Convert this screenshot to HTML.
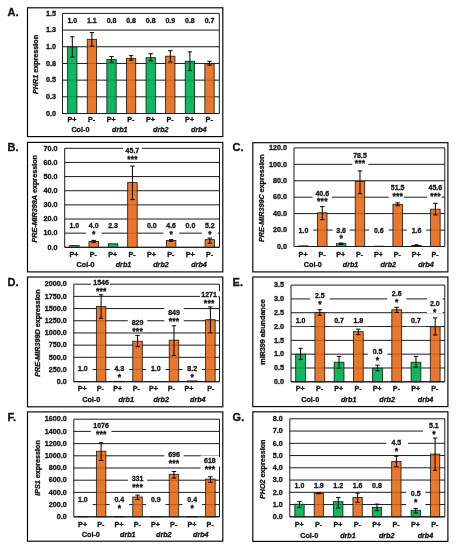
<!DOCTYPE html>
<html><head><meta charset="utf-8"><title>Figure</title>
<style>html,body{margin:0;padding:0;background:#fff}svg{display:block}text{font-family:"Liberation Sans", sans-serif;fill:#111;stroke:#111;stroke-width:0.3px}</style>
</head><body>
<svg width="457" height="550" viewBox="0 0 457 550">
<rect width="457" height="550" fill="#fff"/>
<text x="7.6" y="15.6" font-size="11" font-weight="bold">A.</text>
<rect x="27.5" y="7.8" width="195.3" height="128.8" fill="#fff" stroke="#000" stroke-width="1.15"/>
<line x1="62.5" y1="13.4" x2="219.3" y2="13.4" stroke="#1a1a1a" stroke-width="1"/>
<line x1="62.5" y1="30.08" x2="219.3" y2="30.08" stroke="#1a1a1a" stroke-width="1"/>
<line x1="62.5" y1="46.77" x2="219.3" y2="46.77" stroke="#1a1a1a" stroke-width="1"/>
<line x1="62.5" y1="63.45" x2="219.3" y2="63.45" stroke="#1a1a1a" stroke-width="1"/>
<line x1="62.5" y1="80.13" x2="219.3" y2="80.13" stroke="#1a1a1a" stroke-width="1"/>
<line x1="62.5" y1="96.82" x2="219.3" y2="96.82" stroke="#1a1a1a" stroke-width="1"/>
<line x1="62.5" y1="113.5" x2="219.3" y2="113.5" stroke="#1a1a1a" stroke-width="1"/>
<line x1="62.5" y1="13.4" x2="62.5" y2="113.5" stroke="#1a1a1a" stroke-width="1"/>
<line x1="219.3" y1="13.4" x2="219.3" y2="113.5" stroke="#1a1a1a" stroke-width="1"/>
<rect x="67.65" y="46.9" width="9.3" height="66.6" fill="#10B862" stroke="#151515" stroke-width="0.8"/>
<line x1="68.05" y1="63.45" x2="76.55" y2="63.45" stroke="#000" stroke-opacity="0.22" stroke-width="1"/>
<line x1="68.05" y1="80.13" x2="76.55" y2="80.13" stroke="#000" stroke-opacity="0.22" stroke-width="1"/>
<line x1="68.05" y1="96.82" x2="76.55" y2="96.82" stroke="#000" stroke-opacity="0.22" stroke-width="1"/>
<path d="M72.3 36.8V57M70.1 36.8H74.5M70.1 57H74.5" stroke="#000" stroke-width="1" fill="none"/>
<rect x="87.25" y="39.3" width="9.3" height="74.2" fill="#E9782C" stroke="#151515" stroke-width="0.8"/>
<line x1="87.65" y1="46.77" x2="96.15" y2="46.77" stroke="#000" stroke-opacity="0.22" stroke-width="1"/>
<line x1="87.65" y1="63.45" x2="96.15" y2="63.45" stroke="#000" stroke-opacity="0.22" stroke-width="1"/>
<line x1="87.65" y1="80.13" x2="96.15" y2="80.13" stroke="#000" stroke-opacity="0.22" stroke-width="1"/>
<line x1="87.65" y1="96.82" x2="96.15" y2="96.82" stroke="#000" stroke-opacity="0.22" stroke-width="1"/>
<path d="M91.9 32.5V46.1M89.7 32.5H94.1M89.7 46.1H94.1" stroke="#000" stroke-width="1" fill="none"/>
<rect x="106.85" y="59.5" width="9.3" height="54" fill="#10B862" stroke="#151515" stroke-width="0.8"/>
<line x1="107.25" y1="63.45" x2="115.75" y2="63.45" stroke="#000" stroke-opacity="0.22" stroke-width="1"/>
<line x1="107.25" y1="80.13" x2="115.75" y2="80.13" stroke="#000" stroke-opacity="0.22" stroke-width="1"/>
<line x1="107.25" y1="96.82" x2="115.75" y2="96.82" stroke="#000" stroke-opacity="0.22" stroke-width="1"/>
<path d="M111.5 56.6V62.1M109.3 56.6H113.7M109.3 62.1H113.7" stroke="#000" stroke-width="1" fill="none"/>
<rect x="126.45" y="58.3" width="9.3" height="55.2" fill="#E9782C" stroke="#151515" stroke-width="0.8"/>
<line x1="126.85" y1="63.45" x2="135.35" y2="63.45" stroke="#000" stroke-opacity="0.22" stroke-width="1"/>
<line x1="126.85" y1="80.13" x2="135.35" y2="80.13" stroke="#000" stroke-opacity="0.22" stroke-width="1"/>
<line x1="126.85" y1="96.82" x2="135.35" y2="96.82" stroke="#000" stroke-opacity="0.22" stroke-width="1"/>
<path d="M131.1 55.7V60.2M128.9 55.7H133.3M128.9 60.2H133.3" stroke="#000" stroke-width="1" fill="none"/>
<rect x="146.05" y="57.7" width="9.3" height="55.8" fill="#10B862" stroke="#151515" stroke-width="0.8"/>
<line x1="146.45" y1="63.45" x2="154.95" y2="63.45" stroke="#000" stroke-opacity="0.22" stroke-width="1"/>
<line x1="146.45" y1="80.13" x2="154.95" y2="80.13" stroke="#000" stroke-opacity="0.22" stroke-width="1"/>
<line x1="146.45" y1="96.82" x2="154.95" y2="96.82" stroke="#000" stroke-opacity="0.22" stroke-width="1"/>
<path d="M150.7 53.7V60.8M148.5 53.7H152.9M148.5 60.8H152.9" stroke="#000" stroke-width="1" fill="none"/>
<rect x="165.65" y="56.2" width="9.3" height="57.3" fill="#E9782C" stroke="#151515" stroke-width="0.8"/>
<line x1="166.05" y1="63.45" x2="174.55" y2="63.45" stroke="#000" stroke-opacity="0.22" stroke-width="1"/>
<line x1="166.05" y1="80.13" x2="174.55" y2="80.13" stroke="#000" stroke-opacity="0.22" stroke-width="1"/>
<line x1="166.05" y1="96.82" x2="174.55" y2="96.82" stroke="#000" stroke-opacity="0.22" stroke-width="1"/>
<path d="M170.3 50.7V62M168.1 50.7H172.5M168.1 62H172.5" stroke="#000" stroke-width="1" fill="none"/>
<rect x="185.25" y="61.3" width="9.3" height="52.2" fill="#10B862" stroke="#151515" stroke-width="0.8"/>
<line x1="185.65" y1="63.45" x2="194.15" y2="63.45" stroke="#000" stroke-opacity="0.22" stroke-width="1"/>
<line x1="185.65" y1="80.13" x2="194.15" y2="80.13" stroke="#000" stroke-opacity="0.22" stroke-width="1"/>
<line x1="185.65" y1="96.82" x2="194.15" y2="96.82" stroke="#000" stroke-opacity="0.22" stroke-width="1"/>
<path d="M189.9 51.9V70.6M187.7 51.9H192.1M187.7 70.6H192.1" stroke="#000" stroke-width="1" fill="none"/>
<rect x="204.85" y="63.8" width="9.3" height="49.7" fill="#E9782C" stroke="#151515" stroke-width="0.8"/>
<line x1="205.25" y1="80.13" x2="213.75" y2="80.13" stroke="#000" stroke-opacity="0.22" stroke-width="1"/>
<line x1="205.25" y1="96.82" x2="213.75" y2="96.82" stroke="#000" stroke-opacity="0.22" stroke-width="1"/>
<path d="M209.5 61.3V65.2M207.3 61.3H211.7M207.3 65.2H211.7" stroke="#000" stroke-width="1" fill="none"/>
<line x1="62.5" y1="113.5" x2="219.3" y2="113.5" stroke="#1a1a1a" stroke-width="1"/>
<text x="72.3" y="22.91" font-size="7.0" font-weight="bold" text-anchor="middle">1.0</text>
<text x="91.9" y="22.91" font-size="7.0" font-weight="bold" text-anchor="middle">1.1</text>
<text x="111.5" y="22.91" font-size="7.0" font-weight="bold" text-anchor="middle">0.8</text>
<text x="131.1" y="22.91" font-size="7.0" font-weight="bold" text-anchor="middle">0.8</text>
<text x="150.7" y="22.91" font-size="7.0" font-weight="bold" text-anchor="middle">0.8</text>
<text x="170.3" y="22.91" font-size="7.0" font-weight="bold" text-anchor="middle">0.9</text>
<text x="189.9" y="22.91" font-size="7.0" font-weight="bold" text-anchor="middle">0.8</text>
<text x="209.5" y="22.91" font-size="7.0" font-weight="bold" text-anchor="middle">0.7</text>
<text x="55.9" y="15.68" font-size="7.2" font-weight="bold" text-anchor="end">1.5</text>
<text x="55.9" y="32.36" font-size="7.2" font-weight="bold" text-anchor="end">1.3</text>
<text x="55.9" y="49.04" font-size="7.2" font-weight="bold" text-anchor="end">1.0</text>
<text x="55.9" y="65.73" font-size="7.2" font-weight="bold" text-anchor="end">0.8</text>
<text x="55.9" y="82.41" font-size="7.2" font-weight="bold" text-anchor="end">0.5</text>
<text x="55.9" y="99.09" font-size="7.2" font-weight="bold" text-anchor="end">0.3</text>
<text x="55.9" y="115.78" font-size="7.2" font-weight="bold" text-anchor="end">0.0</text>
<text transform="translate(37.6 64.45) rotate(-90)" font-size="7.2" font-weight="bold" text-anchor="middle"><tspan font-style="italic">PHR1</tspan> expression</text>
<text x="72" y="121.88" font-size="7.2" font-weight="bold" text-anchor="middle">P+</text>
<text x="91.6" y="121.88" font-size="7.2" font-weight="bold" text-anchor="middle">P-</text>
<text x="111.2" y="121.88" font-size="7.2" font-weight="bold" text-anchor="middle">P+</text>
<text x="130.8" y="121.88" font-size="7.2" font-weight="bold" text-anchor="middle">P-</text>
<text x="150.4" y="121.88" font-size="7.2" font-weight="bold" text-anchor="middle">P+</text>
<text x="170" y="121.88" font-size="7.2" font-weight="bold" text-anchor="middle">P-</text>
<text x="189.6" y="121.88" font-size="7.2" font-weight="bold" text-anchor="middle">P+</text>
<text x="209.2" y="121.88" font-size="7.2" font-weight="bold" text-anchor="middle">P-</text>
<text x="80.4" y="132.28" font-size="7.2" font-weight="bold" text-anchor="middle">Col-0</text>
<text x="119.8" y="132.28" font-size="7.2" font-weight="bold" text-anchor="middle"><tspan font-style="italic">drb1</tspan></text>
<text x="160.8" y="132.28" font-size="7.2" font-weight="bold" text-anchor="middle"><tspan font-style="italic">drb2</tspan></text>
<text x="198.8" y="132.28" font-size="7.2" font-weight="bold" text-anchor="middle"><tspan font-style="italic">drb4</tspan></text>
<text x="7.6" y="150.6" font-size="11" font-weight="bold">B.</text>
<rect x="27.5" y="142.4" width="195.3" height="129.5" fill="#fff" stroke="#000" stroke-width="1.15"/>
<line x1="64.7" y1="148.3" x2="219.5" y2="148.3" stroke="#1a1a1a" stroke-width="1"/>
<line x1="64.7" y1="162.44" x2="219.5" y2="162.44" stroke="#1a1a1a" stroke-width="1"/>
<line x1="64.7" y1="176.59" x2="219.5" y2="176.59" stroke="#1a1a1a" stroke-width="1"/>
<line x1="64.7" y1="190.73" x2="219.5" y2="190.73" stroke="#1a1a1a" stroke-width="1"/>
<line x1="64.7" y1="204.87" x2="219.5" y2="204.87" stroke="#1a1a1a" stroke-width="1"/>
<line x1="64.7" y1="219.01" x2="219.5" y2="219.01" stroke="#1a1a1a" stroke-width="1"/>
<line x1="64.7" y1="233.16" x2="219.5" y2="233.16" stroke="#1a1a1a" stroke-width="1"/>
<line x1="64.7" y1="247.3" x2="219.5" y2="247.3" stroke="#1a1a1a" stroke-width="1"/>
<rect x="66.47" y="220.9" width="15.8" height="10.6" fill="#fff"/>
<rect x="85.83" y="220.3" width="15.8" height="15.2" fill="#fff"/>
<rect x="105.17" y="220.9" width="15.8" height="10.6" fill="#fff"/>
<rect x="123.07" y="145.4" width="18.71" height="15.2" fill="#fff"/>
<rect x="143.88" y="220.9" width="15.8" height="10.6" fill="#fff"/>
<rect x="163.22" y="220.3" width="15.8" height="15.2" fill="#fff"/>
<rect x="182.58" y="220.9" width="15.8" height="10.6" fill="#fff"/>
<rect x="201.92" y="220.3" width="15.8" height="15.2" fill="#fff"/>
<line x1="64.7" y1="148.3" x2="64.7" y2="247.3" stroke="#1a1a1a" stroke-width="1"/>
<line x1="219.5" y1="148.3" x2="219.5" y2="247.3" stroke="#1a1a1a" stroke-width="1"/>
<rect x="69.62" y="245.6" width="9.5" height="1.7" fill="#10B862" stroke="#151515" stroke-width="0.8"/>
<rect x="88.98" y="241.4" width="9.5" height="5.9" fill="#E9782C" stroke="#151515" stroke-width="0.8"/>
<path d="M93.73 240.4V242.4M91.53 240.4H95.93M91.53 242.4H95.93" stroke="#000" stroke-width="1" fill="none"/>
<rect x="108.33" y="243.8" width="9.5" height="3.5" fill="#10B862" stroke="#151515" stroke-width="0.8"/>
<rect x="127.68" y="182.6" width="9.5" height="64.7" fill="#E9782C" stroke="#151515" stroke-width="0.8"/>
<line x1="128.08" y1="190.73" x2="136.78" y2="190.73" stroke="#000" stroke-opacity="0.22" stroke-width="1"/>
<line x1="128.08" y1="204.87" x2="136.78" y2="204.87" stroke="#000" stroke-opacity="0.22" stroke-width="1"/>
<line x1="128.08" y1="219.01" x2="136.78" y2="219.01" stroke="#000" stroke-opacity="0.22" stroke-width="1"/>
<line x1="128.08" y1="233.16" x2="136.78" y2="233.16" stroke="#000" stroke-opacity="0.22" stroke-width="1"/>
<path d="M132.43 166.1V199.6M130.23 166.1H134.62M130.23 199.6H134.62" stroke="#000" stroke-width="1" fill="none"/>
<rect x="166.38" y="240.5" width="9.5" height="6.8" fill="#E9782C" stroke="#151515" stroke-width="0.8"/>
<path d="M171.12 239.6V241.4M168.93 239.6H173.32M168.93 241.4H173.32" stroke="#000" stroke-width="1" fill="none"/>
<rect x="205.07" y="239.7" width="9.5" height="7.6" fill="#E9782C" stroke="#151515" stroke-width="0.8"/>
<path d="M209.82 238.1V243.2M207.62 238.1H212.02M207.62 243.2H212.02" stroke="#000" stroke-width="1" fill="none"/>
<line x1="64.7" y1="247.3" x2="219.5" y2="247.3" stroke="#1a1a1a" stroke-width="1"/>
<text x="74.38" y="228.01" font-size="7.0" font-weight="bold" text-anchor="middle">1.0</text>
<text x="93.73" y="228.01" font-size="7.0" font-weight="bold" text-anchor="middle">4.0</text>
<text x="93.83" y="237.04" font-size="8.6" font-weight="bold" text-anchor="middle" letter-spacing="0.2">*</text>
<text x="113.08" y="228.01" font-size="7.0" font-weight="bold" text-anchor="middle">2.3</text>
<text x="132.43" y="153.11" font-size="7.0" font-weight="bold" text-anchor="middle">45.7</text>
<text x="132.53" y="162.14" font-size="8.6" font-weight="bold" text-anchor="middle" letter-spacing="0.2">***</text>
<text x="151.78" y="228.01" font-size="7.0" font-weight="bold" text-anchor="middle">0.0</text>
<text x="171.12" y="228.01" font-size="7.0" font-weight="bold" text-anchor="middle">4.6</text>
<text x="171.22" y="237.04" font-size="8.6" font-weight="bold" text-anchor="middle" letter-spacing="0.2">*</text>
<text x="190.48" y="228.01" font-size="7.0" font-weight="bold" text-anchor="middle">0.0</text>
<text x="209.82" y="228.01" font-size="7.0" font-weight="bold" text-anchor="middle">5.2</text>
<text x="209.92" y="237.04" font-size="8.6" font-weight="bold" text-anchor="middle" letter-spacing="0.2">*</text>
<text x="57.6" y="150.58" font-size="7.2" font-weight="bold" text-anchor="end">70.0</text>
<text x="57.6" y="164.72" font-size="7.2" font-weight="bold" text-anchor="end">60.0</text>
<text x="57.6" y="178.86" font-size="7.2" font-weight="bold" text-anchor="end">50.0</text>
<text x="57.6" y="193.01" font-size="7.2" font-weight="bold" text-anchor="end">40.0</text>
<text x="57.6" y="207.15" font-size="7.2" font-weight="bold" text-anchor="end">30.0</text>
<text x="57.6" y="221.29" font-size="7.2" font-weight="bold" text-anchor="end">20.0</text>
<text x="57.6" y="235.43" font-size="7.2" font-weight="bold" text-anchor="end">10.0</text>
<text x="57.6" y="249.58" font-size="7.2" font-weight="bold" text-anchor="end">0.0</text>
<text transform="translate(37 198.8) rotate(-90)" font-size="7.2" font-weight="bold" text-anchor="middle"><tspan font-style="italic">PRE-MIR399A</tspan> expression</text>
<text x="74.08" y="256.78" font-size="7.2" font-weight="bold" text-anchor="middle">P+</text>
<text x="93.43" y="256.78" font-size="7.2" font-weight="bold" text-anchor="middle">P-</text>
<text x="112.78" y="256.78" font-size="7.2" font-weight="bold" text-anchor="middle">P+</text>
<text x="132.12" y="256.78" font-size="7.2" font-weight="bold" text-anchor="middle">P-</text>
<text x="151.47" y="256.78" font-size="7.2" font-weight="bold" text-anchor="middle">P+</text>
<text x="170.82" y="256.78" font-size="7.2" font-weight="bold" text-anchor="middle">P-</text>
<text x="190.18" y="256.78" font-size="7.2" font-weight="bold" text-anchor="middle">P+</text>
<text x="209.52" y="256.78" font-size="7.2" font-weight="bold" text-anchor="middle">P-</text>
<text x="85.6" y="267.38" font-size="7.2" font-weight="bold" text-anchor="middle">Col-0</text>
<text x="123.5" y="267.38" font-size="7.2" font-weight="bold" text-anchor="middle"><tspan font-style="italic">drb1</tspan></text>
<text x="161" y="267.38" font-size="7.2" font-weight="bold" text-anchor="middle"><tspan font-style="italic">drb2</tspan></text>
<text x="199" y="267.38" font-size="7.2" font-weight="bold" text-anchor="middle"><tspan font-style="italic">drb4</tspan></text>
<text x="232.6" y="150.6" font-size="11" font-weight="bold">C.</text>
<rect x="252.8" y="142.7" width="195.1" height="129.2" fill="#fff" stroke="#000" stroke-width="1.15"/>
<line x1="294" y1="147.9" x2="444.8" y2="147.9" stroke="#1a1a1a" stroke-width="1"/>
<line x1="294" y1="164.33" x2="444.8" y2="164.33" stroke="#1a1a1a" stroke-width="1"/>
<line x1="294" y1="180.77" x2="444.8" y2="180.77" stroke="#1a1a1a" stroke-width="1"/>
<line x1="294" y1="197.2" x2="444.8" y2="197.2" stroke="#1a1a1a" stroke-width="1"/>
<line x1="294" y1="213.63" x2="444.8" y2="213.63" stroke="#1a1a1a" stroke-width="1"/>
<line x1="294" y1="230.07" x2="444.8" y2="230.07" stroke="#1a1a1a" stroke-width="1"/>
<line x1="294" y1="246.5" x2="444.8" y2="246.5" stroke="#1a1a1a" stroke-width="1"/>
<rect x="293.73" y="225.6" width="19.4" height="10.6" fill="#fff"/>
<rect x="312.57" y="187.8" width="19.4" height="15.2" fill="#fff"/>
<rect x="332.73" y="225" width="16.8" height="15.2" fill="#fff"/>
<rect x="352.3" y="150" width="16" height="15.2" fill="#fff"/>
<rect x="369.12" y="225.6" width="19.4" height="10.6" fill="#fff"/>
<rect x="388.6" y="182.7" width="15.4" height="15.2" fill="#fff"/>
<rect x="406.82" y="225.6" width="19.4" height="10.6" fill="#fff"/>
<rect x="427.1" y="182.7" width="14.7" height="15.2" fill="#fff"/>
<line x1="294" y1="147.9" x2="294" y2="246.5" stroke="#1a1a1a" stroke-width="1"/>
<line x1="444.8" y1="147.9" x2="444.8" y2="246.5" stroke="#1a1a1a" stroke-width="1"/>
<rect x="298.68" y="245.9" width="9.5" height="0.6" fill="#10B862" stroke="#151515" stroke-width="0.8"/>
<rect x="317.52" y="212.8" width="9.5" height="33.7" fill="#E9782C" stroke="#151515" stroke-width="0.8"/>
<line x1="317.92" y1="213.63" x2="326.62" y2="213.63" stroke="#000" stroke-opacity="0.22" stroke-width="1"/>
<line x1="317.92" y1="230.07" x2="326.62" y2="230.07" stroke="#000" stroke-opacity="0.22" stroke-width="1"/>
<path d="M322.27 206.6V219.7M320.07 206.6H324.47M320.07 219.7H324.47" stroke="#000" stroke-width="1" fill="none"/>
<rect x="336.38" y="243.7" width="9.5" height="2.8" fill="#10B862" stroke="#151515" stroke-width="0.8"/>
<path d="M341.12 243V244.4M338.93 243H343.32M338.93 244.4H343.32" stroke="#000" stroke-width="1" fill="none"/>
<rect x="355.23" y="181.3" width="9.5" height="65.2" fill="#E9782C" stroke="#151515" stroke-width="0.8"/>
<line x1="355.62" y1="197.2" x2="364.33" y2="197.2" stroke="#000" stroke-opacity="0.22" stroke-width="1"/>
<line x1="355.62" y1="213.63" x2="364.33" y2="213.63" stroke="#000" stroke-opacity="0.22" stroke-width="1"/>
<line x1="355.62" y1="230.07" x2="364.33" y2="230.07" stroke="#000" stroke-opacity="0.22" stroke-width="1"/>
<path d="M359.98 170.9V193.7M357.78 170.9H362.18M357.78 193.7H362.18" stroke="#000" stroke-width="1" fill="none"/>
<rect x="374.07" y="246.2" width="9.5" height="0.3" fill="#10B862" stroke="#151515" stroke-width="0.8"/>
<rect x="392.93" y="204.3" width="9.5" height="42.2" fill="#E9782C" stroke="#151515" stroke-width="0.8"/>
<line x1="393.32" y1="213.63" x2="402.03" y2="213.63" stroke="#000" stroke-opacity="0.22" stroke-width="1"/>
<line x1="393.32" y1="230.07" x2="402.03" y2="230.07" stroke="#000" stroke-opacity="0.22" stroke-width="1"/>
<path d="M397.68 202.8V205.8M395.48 202.8H399.88M395.48 205.8H399.88" stroke="#000" stroke-width="1" fill="none"/>
<rect x="411.77" y="245.4" width="9.5" height="1.1" fill="#10B862" stroke="#151515" stroke-width="0.8"/>
<path d="M416.52 244.8V246M414.32 244.8H418.72M414.32 246H418.72" stroke="#000" stroke-width="1" fill="none"/>
<rect x="430.62" y="209.2" width="9.5" height="37.3" fill="#E9782C" stroke="#151515" stroke-width="0.8"/>
<line x1="431.02" y1="213.63" x2="439.73" y2="213.63" stroke="#000" stroke-opacity="0.22" stroke-width="1"/>
<line x1="431.02" y1="230.07" x2="439.73" y2="230.07" stroke="#000" stroke-opacity="0.22" stroke-width="1"/>
<path d="M435.38 203.3V214.9M433.18 203.3H437.57M433.18 214.9H437.57" stroke="#000" stroke-width="1" fill="none"/>
<line x1="294" y1="246.5" x2="444.8" y2="246.5" stroke="#1a1a1a" stroke-width="1"/>
<text x="303.43" y="232.71" font-size="7.0" font-weight="bold" text-anchor="middle">1.0</text>
<text x="322.27" y="195.51" font-size="7.0" font-weight="bold" text-anchor="middle">40.6</text>
<text x="322.38" y="203.84" font-size="8.6" font-weight="bold" text-anchor="middle" letter-spacing="0.2">***</text>
<text x="341.12" y="232.71" font-size="7.0" font-weight="bold" text-anchor="middle">3.6</text>
<text x="341.23" y="241.04" font-size="8.6" font-weight="bold" text-anchor="middle" letter-spacing="0.2">*</text>
<text x="359.98" y="157.71" font-size="7.0" font-weight="bold" text-anchor="middle">78.5</text>
<text x="360.08" y="166.04" font-size="8.6" font-weight="bold" text-anchor="middle" letter-spacing="0.2">***</text>
<text x="378.82" y="232.71" font-size="7.0" font-weight="bold" text-anchor="middle">0.6</text>
<text x="397.68" y="190.41" font-size="7.0" font-weight="bold" text-anchor="middle">51.5</text>
<text x="397.78" y="198.75" font-size="8.6" font-weight="bold" text-anchor="middle" letter-spacing="0.2">***</text>
<text x="416.52" y="232.71" font-size="7.0" font-weight="bold" text-anchor="middle">1.6</text>
<text x="435.38" y="190.41" font-size="7.0" font-weight="bold" text-anchor="middle">45.6</text>
<text x="435.48" y="198.75" font-size="8.6" font-weight="bold" text-anchor="middle" letter-spacing="0.2">***</text>
<text x="286.9" y="150.18" font-size="7.2" font-weight="bold" text-anchor="end">120.0</text>
<text x="286.9" y="166.61" font-size="7.2" font-weight="bold" text-anchor="end">100.0</text>
<text x="286.9" y="183.04" font-size="7.2" font-weight="bold" text-anchor="end">80.0</text>
<text x="286.9" y="199.48" font-size="7.2" font-weight="bold" text-anchor="end">60.0</text>
<text x="286.9" y="215.91" font-size="7.2" font-weight="bold" text-anchor="end">40.0</text>
<text x="286.9" y="232.34" font-size="7.2" font-weight="bold" text-anchor="end">20.0</text>
<text x="286.9" y="248.78" font-size="7.2" font-weight="bold" text-anchor="end">0.0</text>
<text transform="translate(264.1 198.2) rotate(-90)" font-size="7.2" font-weight="bold" text-anchor="middle"><tspan font-style="italic">PRE-MIR399C</tspan> expression</text>
<text x="303.12" y="256.68" font-size="7.2" font-weight="bold" text-anchor="middle">P+</text>
<text x="321.97" y="256.68" font-size="7.2" font-weight="bold" text-anchor="middle">P-</text>
<text x="340.82" y="256.68" font-size="7.2" font-weight="bold" text-anchor="middle">P+</text>
<text x="359.68" y="256.68" font-size="7.2" font-weight="bold" text-anchor="middle">P-</text>
<text x="378.52" y="256.68" font-size="7.2" font-weight="bold" text-anchor="middle">P+</text>
<text x="397.38" y="256.68" font-size="7.2" font-weight="bold" text-anchor="middle">P-</text>
<text x="416.22" y="256.68" font-size="7.2" font-weight="bold" text-anchor="middle">P+</text>
<text x="435.07" y="256.68" font-size="7.2" font-weight="bold" text-anchor="middle">P-</text>
<text x="312.85" y="267.28" font-size="7.2" font-weight="bold" text-anchor="middle">Col-0</text>
<text x="350.55" y="267.28" font-size="7.2" font-weight="bold" text-anchor="middle"><tspan font-style="italic">drb1</tspan></text>
<text x="388.25" y="267.28" font-size="7.2" font-weight="bold" text-anchor="middle"><tspan font-style="italic">drb2</tspan></text>
<text x="425.95" y="267.28" font-size="7.2" font-weight="bold" text-anchor="middle"><tspan font-style="italic">drb4</tspan></text>
<text x="7.6" y="285.7" font-size="11" font-weight="bold">D.</text>
<rect x="27.5" y="277" width="195.3" height="129.8" fill="#fff" stroke="#000" stroke-width="1.15"/>
<line x1="73.8" y1="284.2" x2="219.5" y2="284.2" stroke="#1a1a1a" stroke-width="1"/>
<line x1="73.8" y1="296.39" x2="219.5" y2="296.39" stroke="#1a1a1a" stroke-width="1"/>
<line x1="73.8" y1="308.57" x2="219.5" y2="308.57" stroke="#1a1a1a" stroke-width="1"/>
<line x1="73.8" y1="320.76" x2="219.5" y2="320.76" stroke="#1a1a1a" stroke-width="1"/>
<line x1="73.8" y1="332.95" x2="219.5" y2="332.95" stroke="#1a1a1a" stroke-width="1"/>
<line x1="73.8" y1="345.14" x2="219.5" y2="345.14" stroke="#1a1a1a" stroke-width="1"/>
<line x1="73.8" y1="357.32" x2="219.5" y2="357.32" stroke="#1a1a1a" stroke-width="1"/>
<line x1="73.8" y1="369.51" x2="219.5" y2="369.51" stroke="#1a1a1a" stroke-width="1"/>
<line x1="73.8" y1="381.7" x2="219.5" y2="381.7" stroke="#1a1a1a" stroke-width="1"/>
<rect x="73.21" y="363.5" width="19.4" height="10.6" fill="#fff"/>
<rect x="91" y="281.2" width="19" height="10.9" fill="#fff"/>
<rect x="109.63" y="362.9" width="19.4" height="15.2" fill="#fff"/>
<rect x="127.84" y="316.9" width="19.4" height="15.2" fill="#fff"/>
<rect x="146.06" y="363.5" width="19.4" height="10.6" fill="#fff"/>
<rect x="164.27" y="307.1" width="19.4" height="15.2" fill="#fff"/>
<rect x="182.48" y="362.9" width="19.4" height="15.2" fill="#fff"/>
<rect x="199.89" y="289.2" width="18.4" height="15.2" fill="#fff"/>
<line x1="73.8" y1="284.2" x2="73.8" y2="381.7" stroke="#1a1a1a" stroke-width="1"/>
<line x1="219.5" y1="284.2" x2="219.5" y2="381.7" stroke="#1a1a1a" stroke-width="1"/>
<rect x="218.7" y="291.3" width="1.8" height="5" fill="#fff"/>
<rect x="78.16" y="381.4" width="9.5" height="0.3" fill="#10B862" stroke="#151515" stroke-width="0.8"/>
<rect x="96.37" y="306.4" width="9.5" height="75.3" fill="#E9782C" stroke="#151515" stroke-width="0.8"/>
<line x1="96.77" y1="308.57" x2="105.47" y2="308.57" stroke="#000" stroke-opacity="0.22" stroke-width="1"/>
<line x1="96.77" y1="320.76" x2="105.47" y2="320.76" stroke="#000" stroke-opacity="0.22" stroke-width="1"/>
<line x1="96.77" y1="332.95" x2="105.47" y2="332.95" stroke="#000" stroke-opacity="0.22" stroke-width="1"/>
<line x1="96.77" y1="345.14" x2="105.47" y2="345.14" stroke="#000" stroke-opacity="0.22" stroke-width="1"/>
<line x1="96.77" y1="357.32" x2="105.47" y2="357.32" stroke="#000" stroke-opacity="0.22" stroke-width="1"/>
<line x1="96.77" y1="369.51" x2="105.47" y2="369.51" stroke="#000" stroke-opacity="0.22" stroke-width="1"/>
<path d="M101.12 294.8V318.3M98.92 294.8H103.32M98.92 318.3H103.32" stroke="#000" stroke-width="1" fill="none"/>
<rect x="114.58" y="381.3" width="9.5" height="0.4" fill="#10B862" stroke="#151515" stroke-width="0.8"/>
<rect x="132.79" y="341.2" width="9.5" height="40.5" fill="#E9782C" stroke="#151515" stroke-width="0.8"/>
<line x1="133.19" y1="345.14" x2="141.89" y2="345.14" stroke="#000" stroke-opacity="0.22" stroke-width="1"/>
<line x1="133.19" y1="357.32" x2="141.89" y2="357.32" stroke="#000" stroke-opacity="0.22" stroke-width="1"/>
<line x1="133.19" y1="369.51" x2="141.89" y2="369.51" stroke="#000" stroke-opacity="0.22" stroke-width="1"/>
<path d="M137.54 335.4V346.7M135.34 335.4H139.74M135.34 346.7H139.74" stroke="#000" stroke-width="1" fill="none"/>
<rect x="151.01" y="381.4" width="9.5" height="0.3" fill="#10B862" stroke="#151515" stroke-width="0.8"/>
<rect x="169.22" y="340.2" width="9.5" height="41.5" fill="#E9782C" stroke="#151515" stroke-width="0.8"/>
<line x1="169.62" y1="345.14" x2="178.32" y2="345.14" stroke="#000" stroke-opacity="0.22" stroke-width="1"/>
<line x1="169.62" y1="357.32" x2="178.32" y2="357.32" stroke="#000" stroke-opacity="0.22" stroke-width="1"/>
<line x1="169.62" y1="369.51" x2="178.32" y2="369.51" stroke="#000" stroke-opacity="0.22" stroke-width="1"/>
<path d="M173.97 325.8V355.5M171.77 325.8H176.17M171.77 355.5H176.17" stroke="#000" stroke-width="1" fill="none"/>
<rect x="187.43" y="380.9" width="9.5" height="0.8" fill="#10B862" stroke="#151515" stroke-width="0.8"/>
<rect x="205.64" y="319.7" width="9.5" height="62" fill="#E9782C" stroke="#151515" stroke-width="0.8"/>
<line x1="206.04" y1="320.76" x2="214.74" y2="320.76" stroke="#000" stroke-opacity="0.22" stroke-width="1"/>
<line x1="206.04" y1="332.95" x2="214.74" y2="332.95" stroke="#000" stroke-opacity="0.22" stroke-width="1"/>
<line x1="206.04" y1="345.14" x2="214.74" y2="345.14" stroke="#000" stroke-opacity="0.22" stroke-width="1"/>
<line x1="206.04" y1="357.32" x2="214.74" y2="357.32" stroke="#000" stroke-opacity="0.22" stroke-width="1"/>
<line x1="206.04" y1="369.51" x2="214.74" y2="369.51" stroke="#000" stroke-opacity="0.22" stroke-width="1"/>
<path d="M210.39 306.9V332.9M208.19 306.9H212.59M208.19 332.9H212.59" stroke="#000" stroke-width="1" fill="none"/>
<line x1="73.8" y1="381.7" x2="219.5" y2="381.7" stroke="#1a1a1a" stroke-width="1"/>
<text x="82.91" y="370.61" font-size="7.0" font-weight="bold" text-anchor="middle">1.0</text>
<text x="101.12" y="284.61" font-size="7.0" font-weight="bold" text-anchor="middle">1546</text>
<text x="101.22" y="293.65" font-size="8.6" font-weight="bold" text-anchor="middle" letter-spacing="0.2">***</text>
<text x="119.33" y="370.61" font-size="7.0" font-weight="bold" text-anchor="middle">4.3</text>
<text x="119.43" y="379.65" font-size="8.6" font-weight="bold" text-anchor="middle" letter-spacing="0.2">*</text>
<text x="137.54" y="324.61" font-size="7.0" font-weight="bold" text-anchor="middle">829</text>
<text x="137.64" y="333.65" font-size="8.6" font-weight="bold" text-anchor="middle" letter-spacing="0.2">***</text>
<text x="155.76" y="370.61" font-size="7.0" font-weight="bold" text-anchor="middle">1.0</text>
<text x="173.97" y="314.81" font-size="7.0" font-weight="bold" text-anchor="middle">849</text>
<text x="174.07" y="323.85" font-size="8.6" font-weight="bold" text-anchor="middle" letter-spacing="0.2">***</text>
<text x="192.18" y="370.61" font-size="7.0" font-weight="bold" text-anchor="middle">8.2</text>
<text x="192.28" y="379.65" font-size="8.6" font-weight="bold" text-anchor="middle" letter-spacing="0.2">*</text>
<text x="209.09" y="296.91" font-size="7.0" font-weight="bold" text-anchor="middle">1271</text>
<text x="209.19" y="305.94" font-size="8.6" font-weight="bold" text-anchor="middle" letter-spacing="0.2">***</text>
<text x="66.7" y="286.48" font-size="7.2" font-weight="bold" text-anchor="end">2000.0</text>
<text x="66.7" y="298.67" font-size="7.2" font-weight="bold" text-anchor="end">1750.0</text>
<text x="66.7" y="310.85" font-size="7.2" font-weight="bold" text-anchor="end">1500.0</text>
<text x="66.7" y="323.04" font-size="7.2" font-weight="bold" text-anchor="end">1250.0</text>
<text x="66.7" y="335.23" font-size="7.2" font-weight="bold" text-anchor="end">1000.0</text>
<text x="66.7" y="347.42" font-size="7.2" font-weight="bold" text-anchor="end">750.0</text>
<text x="66.7" y="359.6" font-size="7.2" font-weight="bold" text-anchor="end">500.0</text>
<text x="66.7" y="371.79" font-size="7.2" font-weight="bold" text-anchor="end">250.0</text>
<text x="66.7" y="383.98" font-size="7.2" font-weight="bold" text-anchor="end">0.0</text>
<text transform="translate(39.6 333.1) rotate(-90)" font-size="7.2" font-weight="bold" text-anchor="middle"><tspan font-style="italic">PRE-MIR399D</tspan> expression</text>
<text x="82.3" y="391.48" font-size="7.2" font-weight="bold" text-anchor="middle">P+</text>
<text x="100.3" y="391.48" font-size="7.2" font-weight="bold" text-anchor="middle">P-</text>
<text x="117.7" y="391.48" font-size="7.2" font-weight="bold" text-anchor="middle">P+</text>
<text x="136.3" y="391.48" font-size="7.2" font-weight="bold" text-anchor="middle">P-</text>
<text x="153.5" y="391.48" font-size="7.2" font-weight="bold" text-anchor="middle">P+</text>
<text x="171.3" y="391.48" font-size="7.2" font-weight="bold" text-anchor="middle">P-</text>
<text x="189" y="391.48" font-size="7.2" font-weight="bold" text-anchor="middle">P+</text>
<text x="210.8" y="391.48" font-size="7.2" font-weight="bold" text-anchor="middle">P-</text>
<text x="91.2" y="401.98" font-size="7.2" font-weight="bold" text-anchor="middle">Col-0</text>
<text x="126.2" y="401.98" font-size="7.2" font-weight="bold" text-anchor="middle"><tspan font-style="italic">drb1</tspan></text>
<text x="161.2" y="401.98" font-size="7.2" font-weight="bold" text-anchor="middle"><tspan font-style="italic">drb2</tspan></text>
<text x="197.8" y="401.98" font-size="7.2" font-weight="bold" text-anchor="middle"><tspan font-style="italic">drb4</tspan></text>
<text x="232.6" y="285.7" font-size="11" font-weight="bold">E.</text>
<rect x="252.8" y="277" width="195.1" height="129.6" fill="#fff" stroke="#000" stroke-width="1.15"/>
<line x1="291" y1="285.1" x2="444.8" y2="285.1" stroke="#1a1a1a" stroke-width="1"/>
<line x1="291" y1="298.91" x2="444.8" y2="298.91" stroke="#1a1a1a" stroke-width="1"/>
<line x1="291" y1="312.73" x2="444.8" y2="312.73" stroke="#1a1a1a" stroke-width="1"/>
<line x1="291" y1="326.54" x2="444.8" y2="326.54" stroke="#1a1a1a" stroke-width="1"/>
<line x1="291" y1="340.36" x2="444.8" y2="340.36" stroke="#1a1a1a" stroke-width="1"/>
<line x1="291" y1="354.17" x2="444.8" y2="354.17" stroke="#1a1a1a" stroke-width="1"/>
<line x1="291" y1="367.99" x2="444.8" y2="367.99" stroke="#1a1a1a" stroke-width="1"/>
<line x1="291" y1="381.8" x2="444.8" y2="381.8" stroke="#1a1a1a" stroke-width="1"/>
<rect x="290.91" y="315.6" width="19.4" height="10.6" fill="#fff"/>
<rect x="310.14" y="290" width="19.4" height="15.2" fill="#fff"/>
<rect x="329.36" y="315.6" width="19.4" height="10.6" fill="#fff"/>
<rect x="348.59" y="315.6" width="19.4" height="10.6" fill="#fff"/>
<rect x="367.81" y="346.1" width="19.4" height="15.2" fill="#fff"/>
<rect x="387.04" y="288.7" width="19.4" height="15.2" fill="#fff"/>
<rect x="406.26" y="315.6" width="19.4" height="10.6" fill="#fff"/>
<rect x="426.99" y="298" width="15.6" height="15.2" fill="#fff"/>
<line x1="291" y1="285.1" x2="291" y2="381.8" stroke="#1a1a1a" stroke-width="1"/>
<line x1="444.8" y1="285.1" x2="444.8" y2="381.8" stroke="#1a1a1a" stroke-width="1"/>
<rect x="295.71" y="354.2" width="9.8" height="27.6" fill="#10B862" stroke="#151515" stroke-width="0.8"/>
<line x1="296.11" y1="367.99" x2="305.11" y2="367.99" stroke="#000" stroke-opacity="0.22" stroke-width="1"/>
<path d="M300.61 348.3V359.6M298.41 348.3H302.81M298.41 359.6H302.81" stroke="#000" stroke-width="1" fill="none"/>
<rect x="314.94" y="312.7" width="9.8" height="69.1" fill="#E9782C" stroke="#151515" stroke-width="0.8"/>
<line x1="315.34" y1="326.54" x2="324.34" y2="326.54" stroke="#000" stroke-opacity="0.22" stroke-width="1"/>
<line x1="315.34" y1="340.36" x2="324.34" y2="340.36" stroke="#000" stroke-opacity="0.22" stroke-width="1"/>
<line x1="315.34" y1="354.17" x2="324.34" y2="354.17" stroke="#000" stroke-opacity="0.22" stroke-width="1"/>
<line x1="315.34" y1="367.99" x2="324.34" y2="367.99" stroke="#000" stroke-opacity="0.22" stroke-width="1"/>
<path d="M319.84 309.8V315.3M317.64 309.8H322.04M317.64 315.3H322.04" stroke="#000" stroke-width="1" fill="none"/>
<rect x="334.16" y="362.2" width="9.8" height="19.6" fill="#10B862" stroke="#151515" stroke-width="0.8"/>
<line x1="334.56" y1="367.99" x2="343.56" y2="367.99" stroke="#000" stroke-opacity="0.22" stroke-width="1"/>
<path d="M339.06 356.4V368.2M336.86 356.4H341.26M336.86 368.2H341.26" stroke="#000" stroke-width="1" fill="none"/>
<rect x="353.39" y="331.7" width="9.8" height="50.1" fill="#E9782C" stroke="#151515" stroke-width="0.8"/>
<line x1="353.79" y1="340.36" x2="362.79" y2="340.36" stroke="#000" stroke-opacity="0.22" stroke-width="1"/>
<line x1="353.79" y1="354.17" x2="362.79" y2="354.17" stroke="#000" stroke-opacity="0.22" stroke-width="1"/>
<line x1="353.79" y1="367.99" x2="362.79" y2="367.99" stroke="#000" stroke-opacity="0.22" stroke-width="1"/>
<path d="M358.29 329.2V334.7M356.09 329.2H360.49M356.09 334.7H360.49" stroke="#000" stroke-width="1" fill="none"/>
<rect x="372.61" y="368.2" width="9.8" height="13.6" fill="#10B862" stroke="#151515" stroke-width="0.8"/>
<path d="M377.51 365.2V370.7M375.31 365.2H379.71M375.31 370.7H379.71" stroke="#000" stroke-width="1" fill="none"/>
<rect x="391.84" y="309.8" width="9.8" height="72" fill="#E9782C" stroke="#151515" stroke-width="0.8"/>
<line x1="392.24" y1="312.73" x2="401.24" y2="312.73" stroke="#000" stroke-opacity="0.22" stroke-width="1"/>
<line x1="392.24" y1="326.54" x2="401.24" y2="326.54" stroke="#000" stroke-opacity="0.22" stroke-width="1"/>
<line x1="392.24" y1="340.36" x2="401.24" y2="340.36" stroke="#000" stroke-opacity="0.22" stroke-width="1"/>
<line x1="392.24" y1="354.17" x2="401.24" y2="354.17" stroke="#000" stroke-opacity="0.22" stroke-width="1"/>
<line x1="392.24" y1="367.99" x2="401.24" y2="367.99" stroke="#000" stroke-opacity="0.22" stroke-width="1"/>
<path d="M396.74 307.3V312.5M394.54 307.3H398.94M394.54 312.5H398.94" stroke="#000" stroke-width="1" fill="none"/>
<rect x="411.06" y="362.2" width="9.8" height="19.6" fill="#10B862" stroke="#151515" stroke-width="0.8"/>
<line x1="411.46" y1="367.99" x2="420.46" y2="367.99" stroke="#000" stroke-opacity="0.22" stroke-width="1"/>
<path d="M415.96 356.4V367.2M413.76 356.4H418.16M413.76 367.2H418.16" stroke="#000" stroke-width="1" fill="none"/>
<rect x="430.29" y="326.7" width="9.8" height="55.1" fill="#E9782C" stroke="#151515" stroke-width="0.8"/>
<line x1="430.69" y1="340.36" x2="439.69" y2="340.36" stroke="#000" stroke-opacity="0.22" stroke-width="1"/>
<line x1="430.69" y1="354.17" x2="439.69" y2="354.17" stroke="#000" stroke-opacity="0.22" stroke-width="1"/>
<line x1="430.69" y1="367.99" x2="439.69" y2="367.99" stroke="#000" stroke-opacity="0.22" stroke-width="1"/>
<path d="M435.19 317.9V335M432.99 317.9H437.39M432.99 335H437.39" stroke="#000" stroke-width="1" fill="none"/>
<line x1="291" y1="381.8" x2="444.8" y2="381.8" stroke="#1a1a1a" stroke-width="1"/>
<text x="300.61" y="322.71" font-size="7.0" font-weight="bold" text-anchor="middle">1.0</text>
<text x="319.84" y="297.71" font-size="7.0" font-weight="bold" text-anchor="middle">2.5</text>
<text x="319.94" y="306.75" font-size="8.6" font-weight="bold" text-anchor="middle" letter-spacing="0.2">*</text>
<text x="339.06" y="322.71" font-size="7.0" font-weight="bold" text-anchor="middle">0.7</text>
<text x="358.29" y="322.71" font-size="7.0" font-weight="bold" text-anchor="middle">1.8</text>
<text x="377.51" y="353.81" font-size="7.0" font-weight="bold" text-anchor="middle">0.5</text>
<text x="377.61" y="362.85" font-size="8.6" font-weight="bold" text-anchor="middle" letter-spacing="0.2">*</text>
<text x="396.74" y="296.41" font-size="7.0" font-weight="bold" text-anchor="middle">2.6</text>
<text x="396.84" y="305.44" font-size="8.6" font-weight="bold" text-anchor="middle" letter-spacing="0.2">*</text>
<text x="415.96" y="322.71" font-size="7.0" font-weight="bold" text-anchor="middle">0.7</text>
<text x="434.79" y="305.71" font-size="7.0" font-weight="bold" text-anchor="middle">2.0</text>
<text x="434.89" y="314.75" font-size="8.6" font-weight="bold" text-anchor="middle" letter-spacing="0.2">*</text>
<text x="283.9" y="287.38" font-size="7.2" font-weight="bold" text-anchor="end">3.5</text>
<text x="283.9" y="301.19" font-size="7.2" font-weight="bold" text-anchor="end">3.0</text>
<text x="283.9" y="315.01" font-size="7.2" font-weight="bold" text-anchor="end">2.5</text>
<text x="283.9" y="328.82" font-size="7.2" font-weight="bold" text-anchor="end">2.0</text>
<text x="283.9" y="342.63" font-size="7.2" font-weight="bold" text-anchor="end">1.5</text>
<text x="283.9" y="356.45" font-size="7.2" font-weight="bold" text-anchor="end">1.0</text>
<text x="283.9" y="370.26" font-size="7.2" font-weight="bold" text-anchor="end">0.5</text>
<text x="283.9" y="384.08" font-size="7.2" font-weight="bold" text-anchor="end">0.0</text>
<text transform="translate(265.2 332) rotate(-90)" font-size="7.2" font-weight="bold" text-anchor="middle">miR399 abundance</text>
<text x="300.31" y="391.18" font-size="7.2" font-weight="bold" text-anchor="middle">P+</text>
<text x="319.54" y="391.18" font-size="7.2" font-weight="bold" text-anchor="middle">P-</text>
<text x="338.76" y="391.18" font-size="7.2" font-weight="bold" text-anchor="middle">P+</text>
<text x="357.99" y="391.18" font-size="7.2" font-weight="bold" text-anchor="middle">P-</text>
<text x="377.21" y="391.18" font-size="7.2" font-weight="bold" text-anchor="middle">P+</text>
<text x="396.44" y="391.18" font-size="7.2" font-weight="bold" text-anchor="middle">P-</text>
<text x="415.66" y="391.18" font-size="7.2" font-weight="bold" text-anchor="middle">P+</text>
<text x="434.89" y="391.18" font-size="7.2" font-weight="bold" text-anchor="middle">P-</text>
<text x="310.23" y="401.78" font-size="7.2" font-weight="bold" text-anchor="middle">Col-0</text>
<text x="348.68" y="401.78" font-size="7.2" font-weight="bold" text-anchor="middle"><tspan font-style="italic">drb1</tspan></text>
<text x="387.12" y="401.78" font-size="7.2" font-weight="bold" text-anchor="middle"><tspan font-style="italic">drb2</tspan></text>
<text x="425.58" y="401.78" font-size="7.2" font-weight="bold" text-anchor="middle"><tspan font-style="italic">drb4</tspan></text>
<text x="7.6" y="420.6" font-size="11" font-weight="bold">F.</text>
<rect x="27.5" y="411.9" width="195.3" height="129.3" fill="#fff" stroke="#000" stroke-width="1.15"/>
<line x1="73.8" y1="419.2" x2="219.5" y2="419.2" stroke="#1a1a1a" stroke-width="1"/>
<line x1="73.8" y1="431.4" x2="219.5" y2="431.4" stroke="#1a1a1a" stroke-width="1"/>
<line x1="73.8" y1="443.6" x2="219.5" y2="443.6" stroke="#1a1a1a" stroke-width="1"/>
<line x1="73.8" y1="455.8" x2="219.5" y2="455.8" stroke="#1a1a1a" stroke-width="1"/>
<line x1="73.8" y1="468" x2="219.5" y2="468" stroke="#1a1a1a" stroke-width="1"/>
<line x1="73.8" y1="480.2" x2="219.5" y2="480.2" stroke="#1a1a1a" stroke-width="1"/>
<line x1="73.8" y1="492.4" x2="219.5" y2="492.4" stroke="#1a1a1a" stroke-width="1"/>
<line x1="73.8" y1="504.6" x2="219.5" y2="504.6" stroke="#1a1a1a" stroke-width="1"/>
<line x1="73.8" y1="516.8" x2="219.5" y2="516.8" stroke="#1a1a1a" stroke-width="1"/>
<rect x="73.21" y="495.1" width="19.4" height="10.6" fill="#fff"/>
<rect x="90.76" y="420.7" width="20.71" height="15.2" fill="#fff"/>
<rect x="109.63" y="494.5" width="19.4" height="15.2" fill="#fff"/>
<rect x="127.84" y="472.8" width="19.4" height="15.2" fill="#fff"/>
<rect x="146.06" y="495.1" width="19.4" height="10.6" fill="#fff"/>
<rect x="164.27" y="449" width="19.4" height="15.2" fill="#fff"/>
<rect x="182.48" y="494.5" width="19.4" height="15.2" fill="#fff"/>
<rect x="200.59" y="455.5" width="18.6" height="15.2" fill="#fff"/>
<line x1="73.8" y1="419.2" x2="73.8" y2="516.8" stroke="#1a1a1a" stroke-width="1"/>
<line x1="219.5" y1="419.2" x2="219.5" y2="516.8" stroke="#1a1a1a" stroke-width="1"/>
<rect x="218.7" y="457" width="1.8" height="9.5" fill="#fff"/>
<rect x="78.16" y="516.5" width="9.5" height="0.3" fill="#10B862" stroke="#151515" stroke-width="0.8"/>
<rect x="96.37" y="451.2" width="9.5" height="65.6" fill="#E9782C" stroke="#151515" stroke-width="0.8"/>
<line x1="96.77" y1="455.8" x2="105.47" y2="455.8" stroke="#000" stroke-opacity="0.22" stroke-width="1"/>
<line x1="96.77" y1="468" x2="105.47" y2="468" stroke="#000" stroke-opacity="0.22" stroke-width="1"/>
<line x1="96.77" y1="480.2" x2="105.47" y2="480.2" stroke="#000" stroke-opacity="0.22" stroke-width="1"/>
<line x1="96.77" y1="492.4" x2="105.47" y2="492.4" stroke="#000" stroke-opacity="0.22" stroke-width="1"/>
<line x1="96.77" y1="504.6" x2="105.47" y2="504.6" stroke="#000" stroke-opacity="0.22" stroke-width="1"/>
<path d="M101.12 442.8V460.4M98.92 442.8H103.32M98.92 460.4H103.32" stroke="#000" stroke-width="1" fill="none"/>
<rect x="114.58" y="516.5" width="9.5" height="0.3" fill="#10B862" stroke="#151515" stroke-width="0.8"/>
<rect x="132.79" y="497" width="9.5" height="19.8" fill="#E9782C" stroke="#151515" stroke-width="0.8"/>
<line x1="133.19" y1="504.6" x2="141.89" y2="504.6" stroke="#000" stroke-opacity="0.22" stroke-width="1"/>
<path d="M137.54 495.1V499.4M135.34 495.1H139.74M135.34 499.4H139.74" stroke="#000" stroke-width="1" fill="none"/>
<rect x="151.01" y="516.5" width="9.5" height="0.3" fill="#10B862" stroke="#151515" stroke-width="0.8"/>
<rect x="169.22" y="474.3" width="9.5" height="42.5" fill="#E9782C" stroke="#151515" stroke-width="0.8"/>
<line x1="169.62" y1="480.2" x2="178.32" y2="480.2" stroke="#000" stroke-opacity="0.22" stroke-width="1"/>
<line x1="169.62" y1="492.4" x2="178.32" y2="492.4" stroke="#000" stroke-opacity="0.22" stroke-width="1"/>
<line x1="169.62" y1="504.6" x2="178.32" y2="504.6" stroke="#000" stroke-opacity="0.22" stroke-width="1"/>
<path d="M173.97 471.5V478M171.77 471.5H176.17M171.77 478H176.17" stroke="#000" stroke-width="1" fill="none"/>
<rect x="187.43" y="516.5" width="9.5" height="0.3" fill="#10B862" stroke="#151515" stroke-width="0.8"/>
<rect x="205.64" y="479.1" width="9.5" height="37.7" fill="#E9782C" stroke="#151515" stroke-width="0.8"/>
<line x1="206.04" y1="480.2" x2="214.74" y2="480.2" stroke="#000" stroke-opacity="0.22" stroke-width="1"/>
<line x1="206.04" y1="492.4" x2="214.74" y2="492.4" stroke="#000" stroke-opacity="0.22" stroke-width="1"/>
<line x1="206.04" y1="504.6" x2="214.74" y2="504.6" stroke="#000" stroke-opacity="0.22" stroke-width="1"/>
<path d="M210.39 476.8V482.3M208.19 476.8H212.59M208.19 482.3H212.59" stroke="#000" stroke-width="1" fill="none"/>
<line x1="73.8" y1="516.8" x2="219.5" y2="516.8" stroke="#1a1a1a" stroke-width="1"/>
<text x="82.91" y="502.21" font-size="7.0" font-weight="bold" text-anchor="middle">1.0</text>
<text x="101.12" y="428.41" font-size="7.0" font-weight="bold" text-anchor="middle">1076</text>
<text x="101.22" y="437.44" font-size="8.6" font-weight="bold" text-anchor="middle" letter-spacing="0.2">***</text>
<text x="119.33" y="502.21" font-size="7.0" font-weight="bold" text-anchor="middle">0.4</text>
<text x="119.43" y="511.25" font-size="8.6" font-weight="bold" text-anchor="middle" letter-spacing="0.2">*</text>
<text x="137.54" y="480.51" font-size="7.0" font-weight="bold" text-anchor="middle">331</text>
<text x="137.64" y="489.55" font-size="8.6" font-weight="bold" text-anchor="middle" letter-spacing="0.2">***</text>
<text x="155.76" y="502.21" font-size="7.0" font-weight="bold" text-anchor="middle">0.9</text>
<text x="173.97" y="456.71" font-size="7.0" font-weight="bold" text-anchor="middle">696</text>
<text x="174.07" y="465.75" font-size="8.6" font-weight="bold" text-anchor="middle" letter-spacing="0.2">***</text>
<text x="192.18" y="502.21" font-size="7.0" font-weight="bold" text-anchor="middle">0.4</text>
<text x="192.28" y="511.25" font-size="8.6" font-weight="bold" text-anchor="middle" letter-spacing="0.2">*</text>
<text x="209.89" y="463.21" font-size="7.0" font-weight="bold" text-anchor="middle">618</text>
<text x="209.99" y="472.25" font-size="8.6" font-weight="bold" text-anchor="middle" letter-spacing="0.2">***</text>
<text x="66.7" y="421.48" font-size="7.2" font-weight="bold" text-anchor="end">1600.0</text>
<text x="66.7" y="433.68" font-size="7.2" font-weight="bold" text-anchor="end">1400.0</text>
<text x="66.7" y="445.88" font-size="7.2" font-weight="bold" text-anchor="end">1200.0</text>
<text x="66.7" y="458.08" font-size="7.2" font-weight="bold" text-anchor="end">1000.0</text>
<text x="66.7" y="470.28" font-size="7.2" font-weight="bold" text-anchor="end">800.0</text>
<text x="66.7" y="482.48" font-size="7.2" font-weight="bold" text-anchor="end">600.0</text>
<text x="66.7" y="494.68" font-size="7.2" font-weight="bold" text-anchor="end">400.0</text>
<text x="66.7" y="506.88" font-size="7.2" font-weight="bold" text-anchor="end">200.0</text>
<text x="66.7" y="519.08" font-size="7.2" font-weight="bold" text-anchor="end">0.0</text>
<text transform="translate(39.6 468) rotate(-90)" font-size="7.2" font-weight="bold" text-anchor="middle"><tspan font-style="italic">IPS1</tspan> expression</text>
<text x="82.61" y="526.98" font-size="7.2" font-weight="bold" text-anchor="middle">P+</text>
<text x="100.82" y="526.98" font-size="7.2" font-weight="bold" text-anchor="middle">P-</text>
<text x="119.03" y="526.98" font-size="7.2" font-weight="bold" text-anchor="middle">P+</text>
<text x="137.24" y="526.98" font-size="7.2" font-weight="bold" text-anchor="middle">P-</text>
<text x="155.46" y="526.98" font-size="7.2" font-weight="bold" text-anchor="middle">P+</text>
<text x="173.67" y="526.98" font-size="7.2" font-weight="bold" text-anchor="middle">P-</text>
<text x="191.88" y="526.98" font-size="7.2" font-weight="bold" text-anchor="middle">P+</text>
<text x="210.09" y="526.98" font-size="7.2" font-weight="bold" text-anchor="middle">P-</text>
<text x="90.8" y="537.48" font-size="7.2" font-weight="bold" text-anchor="middle">Col-0</text>
<text x="127.8" y="537.48" font-size="7.2" font-weight="bold" text-anchor="middle"><tspan font-style="italic">drb1</tspan></text>
<text x="163.8" y="537.48" font-size="7.2" font-weight="bold" text-anchor="middle"><tspan font-style="italic">drb2</tspan></text>
<text x="200.8" y="537.48" font-size="7.2" font-weight="bold" text-anchor="middle"><tspan font-style="italic">drb4</tspan></text>
<text x="232.6" y="420.6" font-size="11" font-weight="bold">G.</text>
<rect x="252.8" y="411.8" width="195.1" height="129.6" fill="#fff" stroke="#000" stroke-width="1.15"/>
<line x1="289.8" y1="418.8" x2="444.8" y2="418.8" stroke="#1a1a1a" stroke-width="1"/>
<line x1="289.8" y1="431.05" x2="444.8" y2="431.05" stroke="#1a1a1a" stroke-width="1"/>
<line x1="289.8" y1="443.3" x2="444.8" y2="443.3" stroke="#1a1a1a" stroke-width="1"/>
<line x1="289.8" y1="455.55" x2="444.8" y2="455.55" stroke="#1a1a1a" stroke-width="1"/>
<line x1="289.8" y1="467.8" x2="444.8" y2="467.8" stroke="#1a1a1a" stroke-width="1"/>
<line x1="289.8" y1="480.05" x2="444.8" y2="480.05" stroke="#1a1a1a" stroke-width="1"/>
<line x1="289.8" y1="492.3" x2="444.8" y2="492.3" stroke="#1a1a1a" stroke-width="1"/>
<line x1="289.8" y1="504.55" x2="444.8" y2="504.55" stroke="#1a1a1a" stroke-width="1"/>
<line x1="289.8" y1="516.8" x2="444.8" y2="516.8" stroke="#1a1a1a" stroke-width="1"/>
<rect x="386.3" y="437" width="21.7" height="15.2" fill="#fff"/>
<rect x="406.04" y="488.1" width="19.4" height="17.5" fill="#fff"/>
<rect x="423" y="420.7" width="22" height="15.2" fill="#fff"/>
<line x1="289.8" y1="418.8" x2="289.8" y2="516.8" stroke="#1a1a1a" stroke-width="1"/>
<line x1="444.8" y1="418.8" x2="444.8" y2="516.8" stroke="#1a1a1a" stroke-width="1"/>
<rect x="294.84" y="504.2" width="9.3" height="12.6" fill="#10B862" stroke="#151515" stroke-width="0.8"/>
<path d="M299.49 501.7V507.5M297.29 501.7H301.69M297.29 507.5H301.69" stroke="#000" stroke-width="1" fill="none"/>
<rect x="314.21" y="493.2" width="9.3" height="23.6" fill="#E9782C" stroke="#151515" stroke-width="0.8"/>
<line x1="314.61" y1="504.55" x2="323.11" y2="504.55" stroke="#000" stroke-opacity="0.22" stroke-width="1"/>
<path d="M318.86 492.7V493.7M316.66 492.7H321.06M316.66 493.7H321.06" stroke="#000" stroke-width="1" fill="none"/>
<rect x="333.59" y="501.7" width="9.3" height="15.1" fill="#10B862" stroke="#151515" stroke-width="0.8"/>
<line x1="333.99" y1="504.55" x2="342.49" y2="504.55" stroke="#000" stroke-opacity="0.22" stroke-width="1"/>
<path d="M338.24 497.5V508M336.04 497.5H340.44M336.04 508H340.44" stroke="#000" stroke-width="1" fill="none"/>
<rect x="352.96" y="497.4" width="9.3" height="19.4" fill="#E9782C" stroke="#151515" stroke-width="0.8"/>
<line x1="353.36" y1="504.55" x2="361.86" y2="504.55" stroke="#000" stroke-opacity="0.22" stroke-width="1"/>
<path d="M357.61 493.1V502.3M355.41 493.1H359.81M355.41 502.3H359.81" stroke="#000" stroke-width="1" fill="none"/>
<rect x="372.34" y="507.3" width="9.3" height="9.5" fill="#10B862" stroke="#151515" stroke-width="0.8"/>
<path d="M376.99 504.1V510.7M374.79 504.1H379.19M374.79 510.7H379.19" stroke="#000" stroke-width="1" fill="none"/>
<rect x="391.71" y="461.4" width="9.3" height="55.4" fill="#E9782C" stroke="#151515" stroke-width="0.8"/>
<line x1="392.11" y1="467.8" x2="400.61" y2="467.8" stroke="#000" stroke-opacity="0.22" stroke-width="1"/>
<line x1="392.11" y1="480.05" x2="400.61" y2="480.05" stroke="#000" stroke-opacity="0.22" stroke-width="1"/>
<line x1="392.11" y1="492.3" x2="400.61" y2="492.3" stroke="#000" stroke-opacity="0.22" stroke-width="1"/>
<line x1="392.11" y1="504.55" x2="400.61" y2="504.55" stroke="#000" stroke-opacity="0.22" stroke-width="1"/>
<path d="M396.36 456.2V466.8M394.16 456.2H398.56M394.16 466.8H398.56" stroke="#000" stroke-width="1" fill="none"/>
<rect x="411.09" y="510.3" width="9.3" height="6.5" fill="#10B862" stroke="#151515" stroke-width="0.8"/>
<path d="M415.74 508.5V513.1M413.54 508.5H417.94M413.54 513.1H417.94" stroke="#000" stroke-width="1" fill="none"/>
<rect x="430.46" y="454.1" width="9.3" height="62.7" fill="#E9782C" stroke="#151515" stroke-width="0.8"/>
<line x1="430.86" y1="455.55" x2="439.36" y2="455.55" stroke="#000" stroke-opacity="0.22" stroke-width="1"/>
<line x1="430.86" y1="467.8" x2="439.36" y2="467.8" stroke="#000" stroke-opacity="0.22" stroke-width="1"/>
<line x1="430.86" y1="480.05" x2="439.36" y2="480.05" stroke="#000" stroke-opacity="0.22" stroke-width="1"/>
<line x1="430.86" y1="492.3" x2="439.36" y2="492.3" stroke="#000" stroke-opacity="0.22" stroke-width="1"/>
<line x1="430.86" y1="504.55" x2="439.36" y2="504.55" stroke="#000" stroke-opacity="0.22" stroke-width="1"/>
<path d="M435.11 438V470.3M432.91 438H437.31M432.91 470.3H437.31" stroke="#000" stroke-width="1" fill="none"/>
<line x1="289.8" y1="516.8" x2="444.8" y2="516.8" stroke="#1a1a1a" stroke-width="1"/>
<text x="299.49" y="488.11" font-size="7.0" font-weight="bold" text-anchor="middle">1.0</text>
<text x="318.86" y="488.11" font-size="7.0" font-weight="bold" text-anchor="middle">1.9</text>
<text x="338.24" y="488.11" font-size="7.0" font-weight="bold" text-anchor="middle">1.2</text>
<text x="357.61" y="488.11" font-size="7.0" font-weight="bold" text-anchor="middle">1.6</text>
<text x="376.99" y="488.11" font-size="7.0" font-weight="bold" text-anchor="middle">0.8</text>
<text x="396.36" y="444.71" font-size="7.0" font-weight="bold" text-anchor="middle">4.5</text>
<text x="396.46" y="453.75" font-size="8.6" font-weight="bold" text-anchor="middle" letter-spacing="0.2">*</text>
<text x="415.74" y="495.81" font-size="7.0" font-weight="bold" text-anchor="middle">0.5</text>
<text x="415.84" y="504.85" font-size="8.6" font-weight="bold" text-anchor="middle" letter-spacing="0.2">*</text>
<text x="433.91" y="428.41" font-size="7.0" font-weight="bold" text-anchor="middle">5.1</text>
<text x="434.01" y="437.44" font-size="8.6" font-weight="bold" text-anchor="middle" letter-spacing="0.2">*</text>
<text x="282.7" y="421.08" font-size="7.2" font-weight="bold" text-anchor="end">8.0</text>
<text x="282.7" y="433.33" font-size="7.2" font-weight="bold" text-anchor="end">7.0</text>
<text x="282.7" y="445.58" font-size="7.2" font-weight="bold" text-anchor="end">6.0</text>
<text x="282.7" y="457.83" font-size="7.2" font-weight="bold" text-anchor="end">5.0</text>
<text x="282.7" y="470.08" font-size="7.2" font-weight="bold" text-anchor="end">4.0</text>
<text x="282.7" y="482.33" font-size="7.2" font-weight="bold" text-anchor="end">3.0</text>
<text x="282.7" y="494.58" font-size="7.2" font-weight="bold" text-anchor="end">2.0</text>
<text x="282.7" y="506.83" font-size="7.2" font-weight="bold" text-anchor="end">1.0</text>
<text x="282.7" y="519.08" font-size="7.2" font-weight="bold" text-anchor="end">0.0</text>
<text transform="translate(264.8 469.3) rotate(-90)" font-size="7.2" font-weight="bold" text-anchor="middle"><tspan font-style="italic">PHO2</tspan> expression</text>
<text x="299.19" y="526.88" font-size="7.2" font-weight="bold" text-anchor="middle">P+</text>
<text x="318.56" y="526.88" font-size="7.2" font-weight="bold" text-anchor="middle">P-</text>
<text x="337.94" y="526.88" font-size="7.2" font-weight="bold" text-anchor="middle">P+</text>
<text x="357.31" y="526.88" font-size="7.2" font-weight="bold" text-anchor="middle">P-</text>
<text x="376.69" y="526.88" font-size="7.2" font-weight="bold" text-anchor="middle">P+</text>
<text x="396.06" y="526.88" font-size="7.2" font-weight="bold" text-anchor="middle">P-</text>
<text x="415.44" y="526.88" font-size="7.2" font-weight="bold" text-anchor="middle">P+</text>
<text x="434.81" y="526.88" font-size="7.2" font-weight="bold" text-anchor="middle">P-</text>
<text x="309.18" y="537.58" font-size="7.2" font-weight="bold" text-anchor="middle">Col-0</text>
<text x="347.93" y="537.58" font-size="7.2" font-weight="bold" text-anchor="middle"><tspan font-style="italic">drb1</tspan></text>
<text x="386.68" y="537.58" font-size="7.2" font-weight="bold" text-anchor="middle"><tspan font-style="italic">drb2</tspan></text>
<text x="425.43" y="537.58" font-size="7.2" font-weight="bold" text-anchor="middle"><tspan font-style="italic">drb4</tspan></text>
</svg>
</body></html>
